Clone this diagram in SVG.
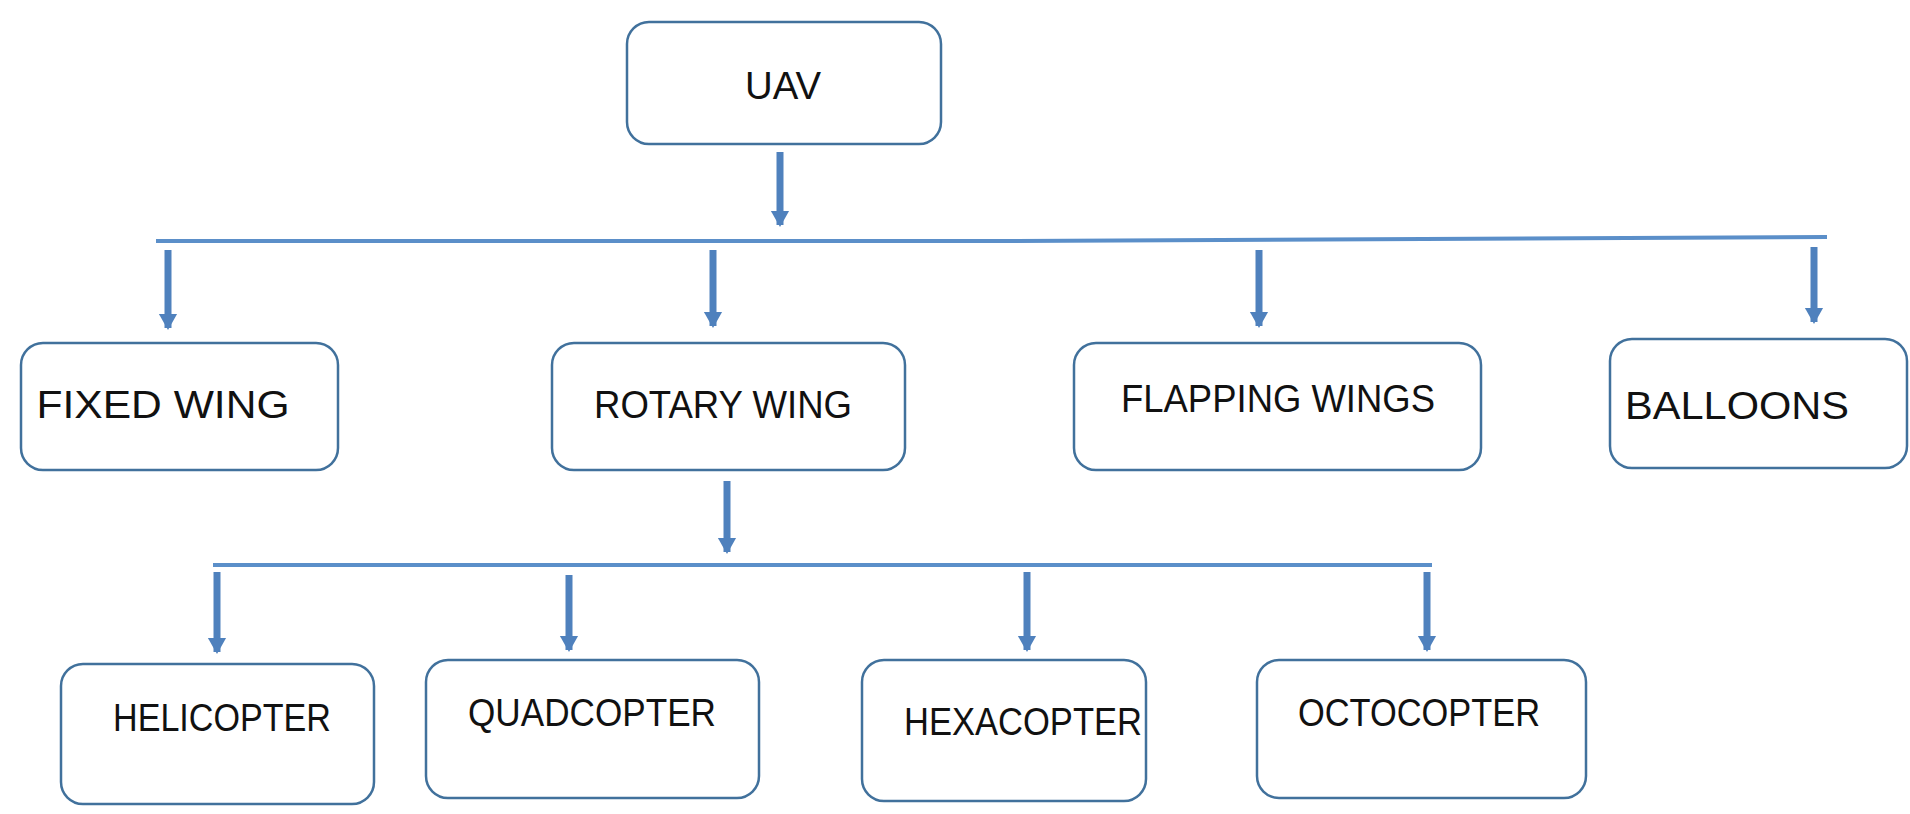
<svg xmlns="http://www.w3.org/2000/svg" width="1910" height="814" viewBox="0 0 1910 814">
<defs>
<marker id="ah" markerWidth="4" markerHeight="4" refX="2" refY="2" orient="auto" markerUnits="strokeWidth"><path d="M0,0.7 L2.3,2 L0,3.3 Z" fill="#4f81bd"/></marker>
<style>
.box{fill:#fff;stroke:#41719c;stroke-width:2.5}
.t{font-family:"Liberation Sans",Arial,sans-serif;font-size:38px;fill:#111;text-anchor:middle;dominant-baseline:middle}
.ar{stroke:#4f81bd;stroke-width:7;fill:none;marker-end:url(#ah)}
.ln{stroke:#5b8fc9;stroke-width:4;fill:none}
</style>
</defs>
<rect width="1910" height="814" fill="#fff"/>
<g id="connectors">
<path class="ar" d="M780 152V225"/>
<path class="ln" d="M156 241H1000L1827 237"/>
<path class="ar" d="M168 250V328"/>
<path class="ar" d="M713 250V326"/>
<path class="ar" d="M1259 250V326"/>
<path class="ar" d="M1814 247V322"/>
<path class="ar" d="M727 481V552"/>
<path class="ln" d="M213 565H1432"/>
<path class="ar" d="M217 572V652"/>
<path class="ar" d="M569 575V650"/>
<path class="ar" d="M1027 572V650"/>
<path class="ar" d="M1427 572V650"/>
</g>
<g id="uav"><rect class="box" x="627" y="22" width="314" height="122" rx="22"/><text class="t" x="783" y="89" textLength="76" lengthAdjust="spacingAndGlyphs">UAV</text></g>
<g id="fixed"><rect class="box" x="21" y="343" width="317" height="127" rx="22"/><text class="t" x="163" y="408" textLength="253" lengthAdjust="spacingAndGlyphs">FIXED WING</text></g>
<g id="rotary"><rect class="box" x="552" y="343" width="353" height="127" rx="22"/><text class="t" x="723" y="408" textLength="258" lengthAdjust="spacingAndGlyphs">ROTARY WING</text></g>
<g id="flapping"><rect class="box" x="1074" y="343" width="407" height="127" rx="22"/><text class="t" x="1278" y="402" textLength="314" lengthAdjust="spacingAndGlyphs">FLAPPING WINGS</text></g>
<g id="balloons"><rect class="box" x="1610" y="339" width="297" height="129" rx="22"/><text class="t" x="1737" y="409" textLength="224" lengthAdjust="spacingAndGlyphs">BALLOONS</text></g>
<g id="helicopter"><rect class="box" x="61" y="664" width="313" height="140" rx="22"/><text class="t" x="222" y="721" textLength="218" lengthAdjust="spacingAndGlyphs">HELICOPTER</text></g>
<g id="quadcopter"><rect class="box" x="426" y="660" width="333" height="138" rx="22"/><text class="t" x="592" y="716" textLength="248" lengthAdjust="spacingAndGlyphs">QUADCOPTER</text></g>
<g id="hexacopter"><rect class="box" x="862" y="660" width="284" height="141" rx="22"/><text class="t" x="1023" y="725" textLength="238" lengthAdjust="spacingAndGlyphs">HEXACOPTER</text></g>
<g id="octocopter"><rect class="box" x="1257" y="660" width="329" height="138" rx="22"/><text class="t" x="1419" y="716" textLength="242" lengthAdjust="spacingAndGlyphs">OCTOCOPTER</text></g>
</svg>
